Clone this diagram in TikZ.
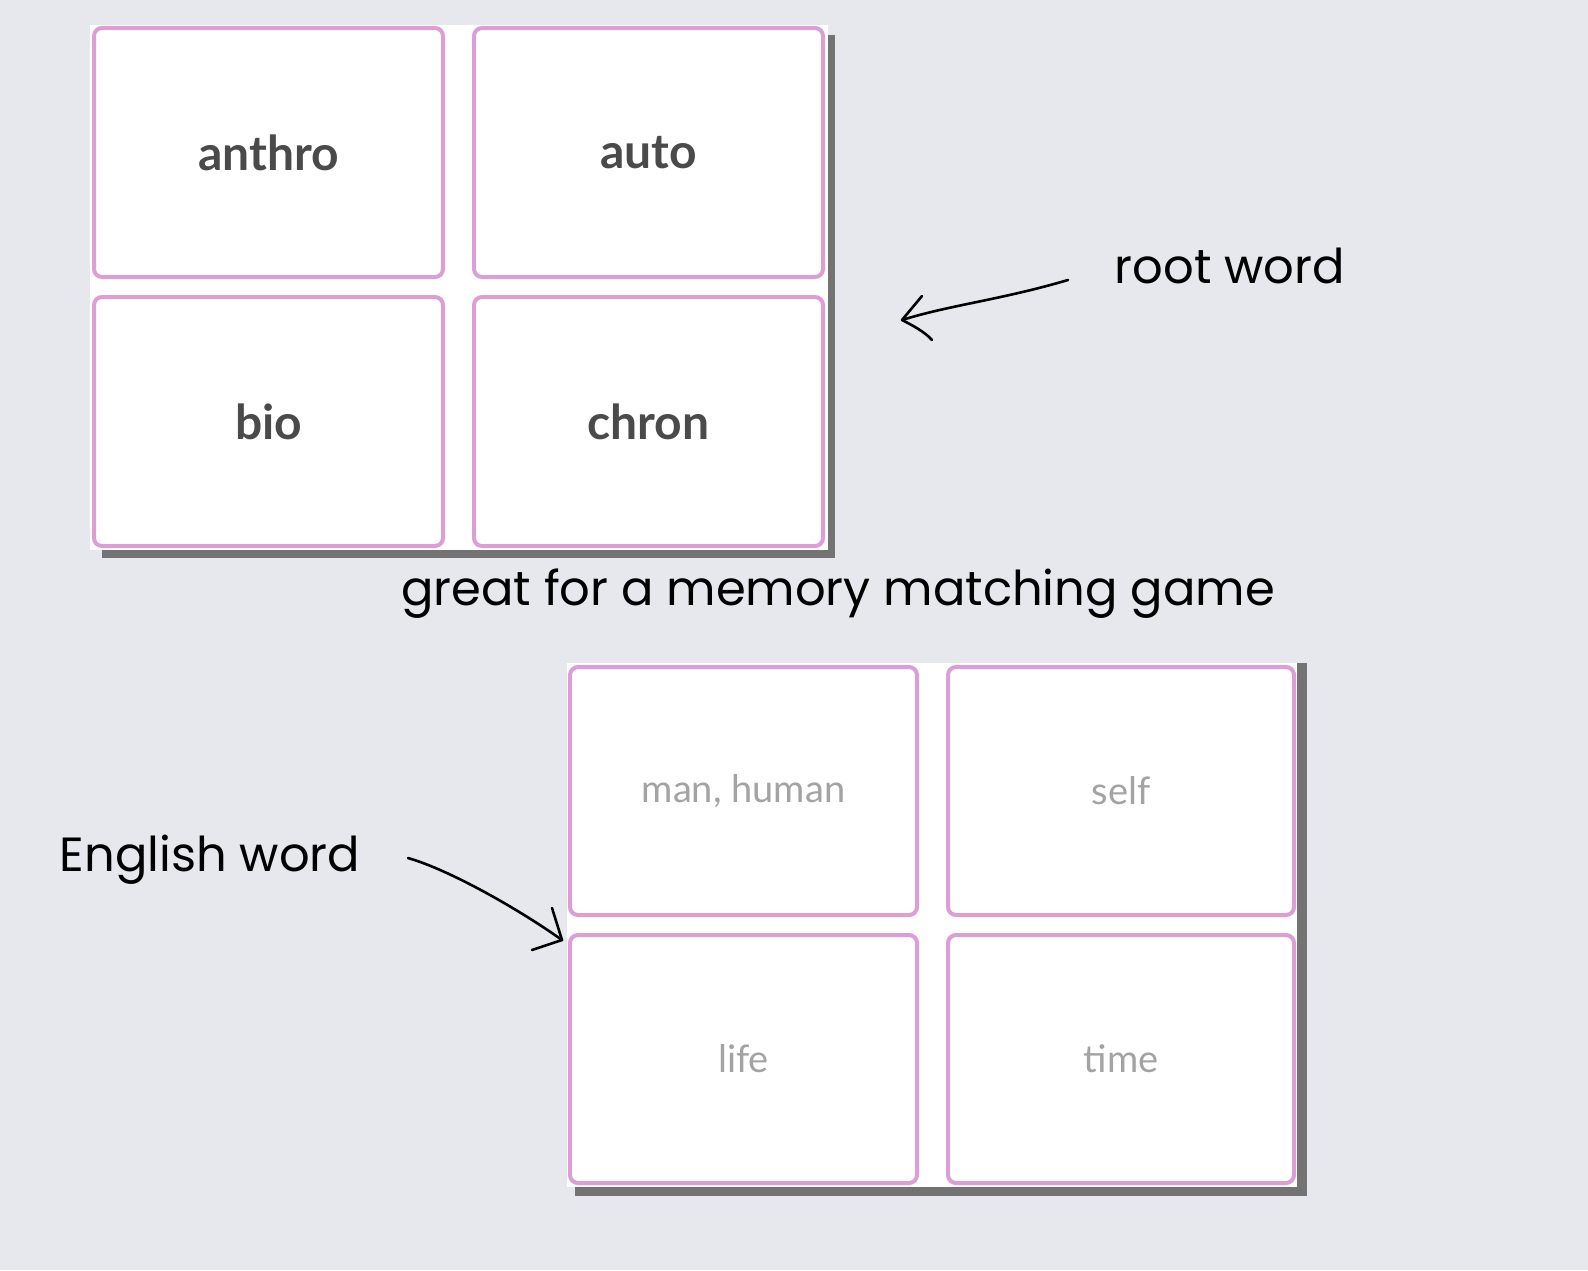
\documentclass[tikz,border=0pt]{standalone}
\usepackage{fontspec}
\setmainfont{Poppins}
\newfontfamily\cardfont{Lato}
\usetikzlibrary{positioning}
\definecolor{bgcol}{HTML}{E6E8EE}
\definecolor{pinkline}{HTML}{DD9ED6}
\definecolor{rootcol}{HTML}{4A4A4A}
\definecolor{wordcol}{HTML}{A3A3A3}
\tikzset{
  card/.style={draw=pinkline, line width=2pt, rounded corners=4pt, fill=white},
  rootlabel/.style={font=\cardfont\bfseries\fontsize{24}{28}\selectfont, text=rootcol},
  wordlabel/.style={font=\cardfont\fontsize{19}{23}\selectfont, text=wordcol},
  note/.style={font=\fontsize{24}{28}\selectfont, text=black},
  sketch/.style={draw=black, line width=1.3pt, line cap=round}
}
\begin{document}
\begin{tikzpicture}[x=0.5pt, y=-0.5pt]
  \fill[bgcol] (0,0) rectangle (1588,1270);
  \useasboundingbox (0,0) rectangle (1588,1270);
  % top sheet
  \fill[gray!90!black] (102,35) rectangle (835,558);
  \fill[white] (90,25) rectangle (828,550);
  \draw[card] (94,28) rectangle node[rootlabel] (anthro) {anthro} (443,277);
  \draw[card] (474,28) rectangle node[rootlabel] (auto) {auto} (823,277);
  \draw[card] (94,297) rectangle node[rootlabel] (bio) {bio} (443,546);
  \draw[card] (474,297) rectangle node[rootlabel] (chron) {chron} (823,546);
  % bottom sheet
  \fill[gray!90!black] (575,663) rectangle (1307,1196);
  \fill[white] (567,663) rectangle (1297,1187);
  \draw[card] (570,667) rectangle node[wordlabel] (man) {man, human} (917,915);
  \draw[card] (948,667) rectangle node[wordlabel] (self) {self} (1294,915);
  \draw[card] (570,935) rectangle node[wordlabel] (life) {life} (917,1183);
  \draw[card] (948,935) rectangle node[wordlabel] (time) {time} (1294,1183);
  % notes
  \node[note] (root) at (1230,266) {root word};
  \node[note] (game) at (838,594) {great for a memory matching game};
  \node[note] (english) at (210,860) {English word};
  \coordinate (rootstart) at (1068,280);
  \coordinate (roottip) at (902,320);
  \coordinate (engstart) at (408,858);
  \coordinate (engtip) at (562,940);
  \draw[sketch] (rootstart) .. controls (1000,300) and (950,305) .. (roottip);
  \draw[sketch] (roottip) -- (922,296);
  \draw[sketch] (roottip) .. controls (912,325) and (925,332) .. (932,340);
  \draw[sketch] (engstart) .. controls (450,870) and (520,910) .. (engtip);
  \draw[sketch] (engtip) -- (552,908);
  \draw[sketch] (engtip) -- (532,950);
\end{tikzpicture}
\end{document}
